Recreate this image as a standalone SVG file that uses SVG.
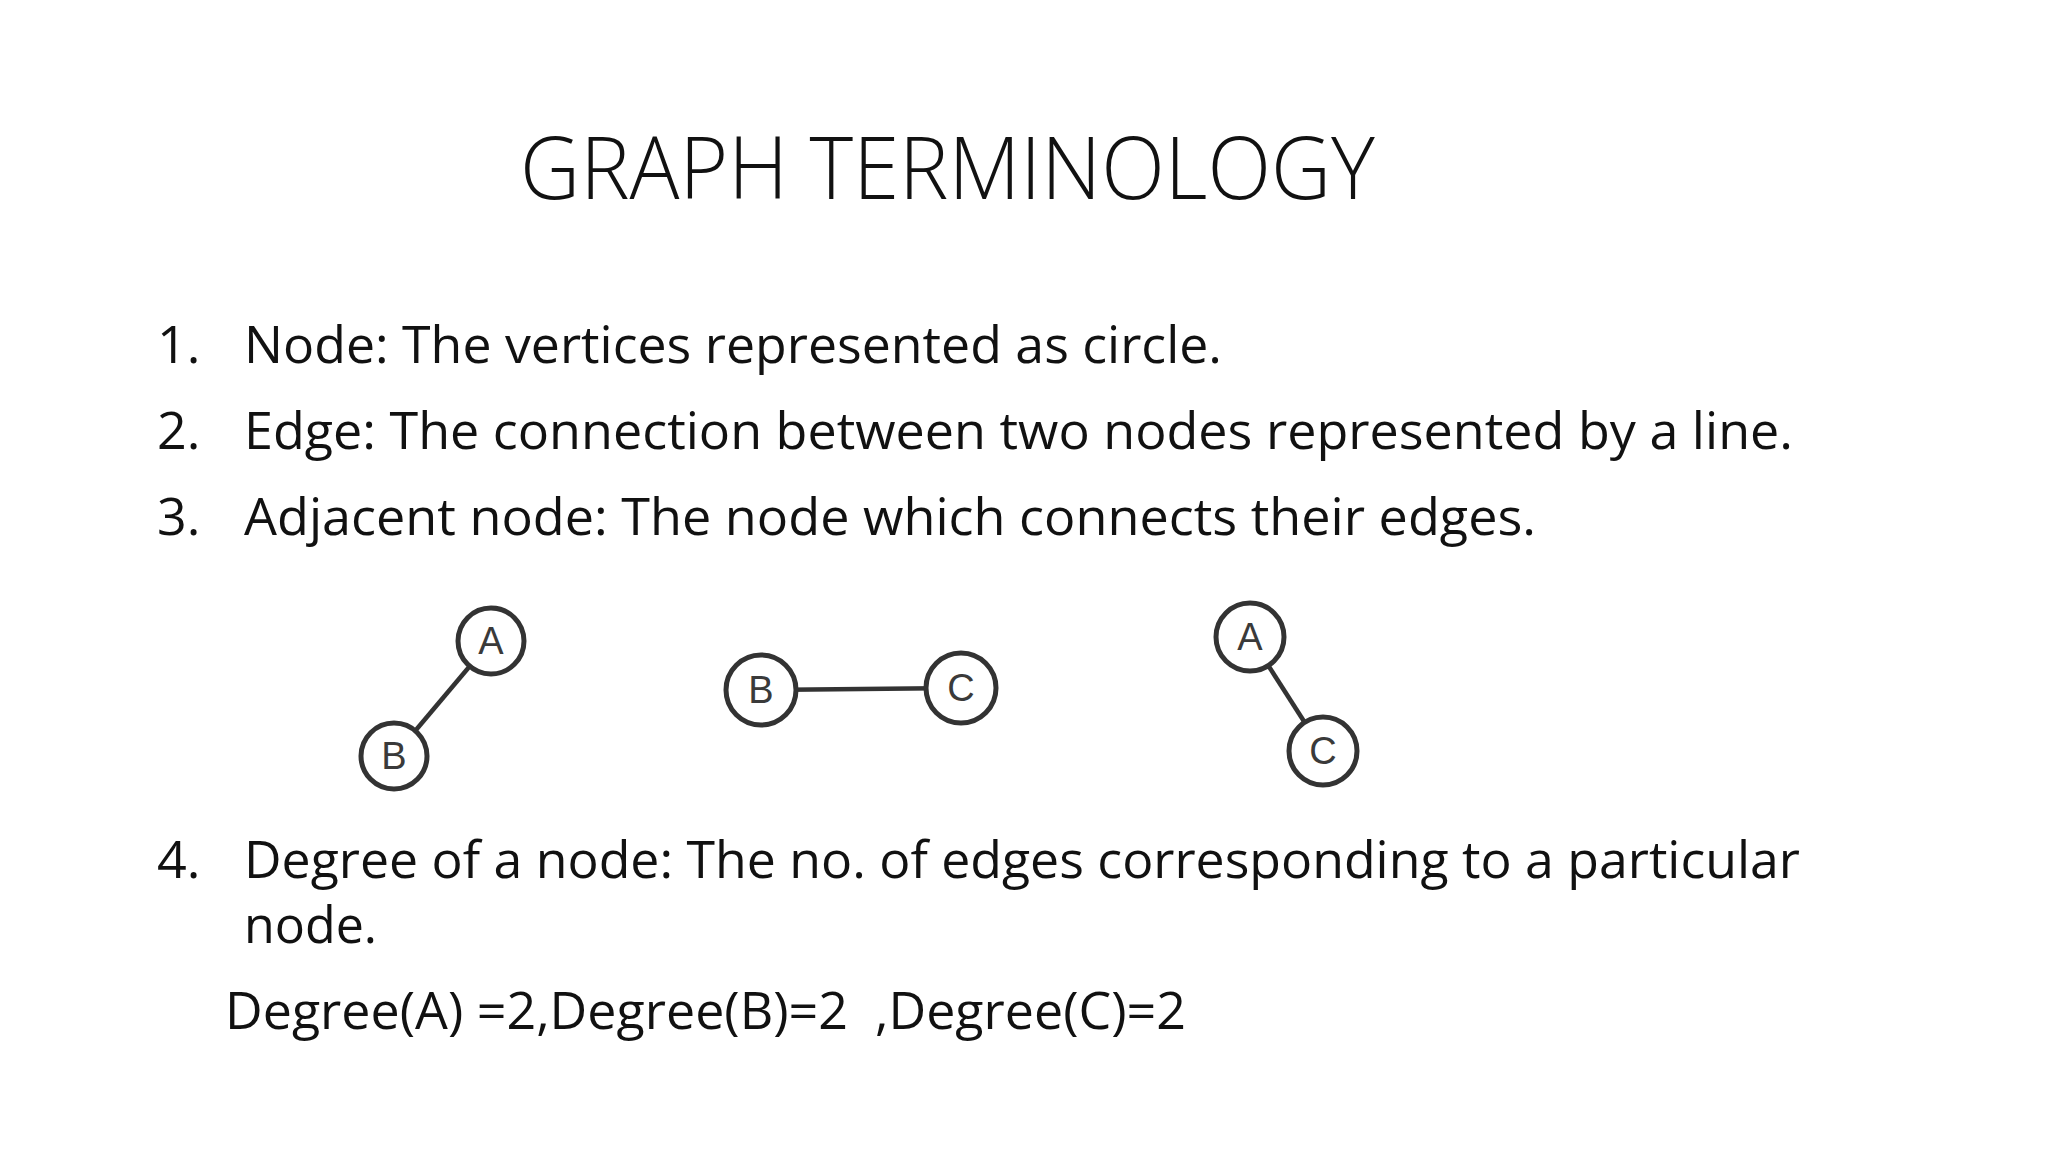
<svg xmlns="http://www.w3.org/2000/svg" width="2048" height="1152" viewBox="0 0 2048 1152">
<style>
.t{font-family:"Open Sans","Liberation Sans",sans-serif;font-size:52px;fill:#111}
.n circle{fill:#fff;stroke:#333;stroke-width:5}
.n text{font-family:"Liberation Sans",Arial,sans-serif;font-size:38px;fill:#3a3a3a;text-anchor:middle}
.e line{stroke:#333;stroke-width:4.5}
</style>
<rect width="2048" height="1152" fill="#fff"/>
<text id="title" x="520" y="199" style="font-family:'Open Sans','Liberation Sans',sans-serif;font-size:86px;font-weight:300;fill:#111" textLength="855" lengthAdjust="spacingAndGlyphs">GRAPH TERMINOLOGY</text>
<g class="t">
<text x="157" y="363">1.</text><text x="244" y="363" textLength="978" lengthAdjust="spacingAndGlyphs">Node: The vertices represented as circle.</text>
<text x="157" y="449">2.</text><text x="244" y="449" textLength="1549" lengthAdjust="spacingAndGlyphs">Edge: The connection between two nodes represented by a line.</text>
<text x="157" y="535">3.</text><text x="244" y="535" textLength="1292" lengthAdjust="spacingAndGlyphs">Adjacent node: The node which connects their edges.</text>
<text x="157" y="878">4.</text><text x="244" y="878" textLength="1556" lengthAdjust="spacingAndGlyphs">Degree of a node: The no. of edges corresponding to a particular</text>
<text x="244" y="943" textLength="133" lengthAdjust="spacingAndGlyphs">node.</text>
<text x="225" y="1029" textLength="961" lengthAdjust="spacingAndGlyphs" xml:space="preserve">Degree(A) =2,Degree(B)=2  ,Degree(C)=2</text>
</g>
<g class="e" id="connectors">
<line x1="491" y1="641" x2="394" y2="756"/>
<line x1="761" y1="690" x2="961" y2="688"/>
<line x1="1250" y1="637" x2="1323" y2="751"/>
</g>
<g class="n" id="n1A"><circle cx="491" cy="641" r="33"/><text x="491" y="654">A</text></g>
<g class="n" id="n1B"><circle cx="394" cy="756" r="33"/><text x="394" y="769">B</text></g>
<g class="n" id="n2B"><circle cx="761" cy="690" r="35"/><text x="761" y="703">B</text></g>
<g class="n" id="n2C"><circle cx="961" cy="688" r="35"/><text x="961" y="701">C</text></g>
<g class="n" id="n3A"><circle cx="1250" cy="637" r="34"/><text x="1250" y="650">A</text></g>
<g class="n" id="n3C"><circle cx="1323" cy="751" r="34"/><text x="1323" y="764">C</text></g>
</svg>
